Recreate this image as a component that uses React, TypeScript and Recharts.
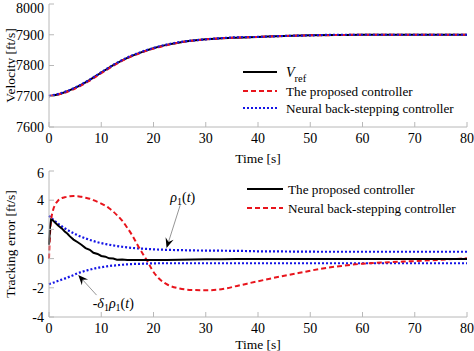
import React from 'react';
import { LineChart, Line, XAxis, YAxis, Legend, ReferenceLine, ReferenceDot } from 'recharts';

// ---------- data ----------
const topTime = [0, 2.5, 5, 7.5, 10, 12.5, 15, 17.5, 20, 22.5, 25, 30, 35, 40, 45, 50, 55, 60, 70, 80];
const vRef = [7700, 7710, 7727, 7750, 7777, 7803, 7825, 7842, 7856, 7867, 7875, 7885, 7890, 7893, 7896, 7898, 7899, 7900, 7900, 7900];
const vProposed = [7700, 7709, 7725, 7748, 7775, 7801, 7824, 7841, 7855, 7866, 7875, 7885, 7890, 7893, 7896, 7898, 7899, 7900, 7900, 7900];
const vNeural = [7701, 7711, 7728, 7751, 7778, 7804, 7826, 7843, 7857, 7868, 7876, 7885, 7891, 7893, 7896, 7898, 7900, 7900, 7900, 7900];

const botTime = [0, 0.2, 0.4, 0.8, 1.2, 1.8, 2.5, 3, 3.5, 4, 4.7, 5.5, 6.2, 7, 7.8, 8.5, 9.3, 10, 10.8, 11.5, 12.3, 13, 14, 15, 16, 17, 18, 18.8, 19.7, 21, 22.5, 25, 27.5, 30, 33, 36, 40, 44, 48, 52, 56, 60, 65, 70, 75, 80];
const eProposed = [0.95, 2.2, 2.67, 2.6, 2.45, 2.25, 2.05, 1.86, 1.72, 1.52, 1.3, 1.12, 0.95, 0.72, 0.6, 0.4, 0.32, 0.18, 0.13, 0.02, 0.0, -0.08, -0.06, -0.1, -0.1, -0.1, -0.1, -0.1, -0.1, -0.1, -0.09, -0.08, -0.06, -0.05, -0.04, -0.03, -0.02, -0.02, -0.02, -0.02, -0.02, -0.02, -0.02, -0.02, -0.02, -0.02];
const eNeural = [0, 1.75, 2.6, 3.35, 3.7, 4.0, 4.15, 4.2, 4.24, 4.27, 4.28, 4.27, 4.23, 4.17, 4.1, 4.0, 3.88, 3.77, 3.62, 3.45, 3.22, 2.98, 2.6, 2.1, 1.55, 0.9, 0.3, -0.15, -0.75, -1.35, -1.75, -2.05, -2.15, -2.17, -2.1, -1.87, -1.55, -1.25, -0.97, -0.7, -0.5, -0.35, -0.25, -0.17, -0.08, 0.02];
const rhoUpper = [2.94, 2.87, 2.8, 2.67, 2.55, 2.38, 2.2, 2.08, 1.97, 1.87, 1.74, 1.6, 1.49, 1.38, 1.28, 1.2, 1.12, 1.06, 1.0, 0.95, 0.9, 0.86, 0.81, 0.77, 0.73, 0.7, 0.68, 0.66, 0.64, 0.62, 0.6, 0.58, 0.56, 0.55, 0.54, 0.53, 0.5, 0.49, 0.48, 0.47, 0.47, 0.47, 0.47, 0.47, 0.47, 0.47];
const rhoLower = [-1.75, -1.72, -1.7, -1.65, -1.6, -1.52, -1.43, -1.37, -1.3, -1.23, -1.13, -1.0, -0.92, -0.83, -0.76, -0.69, -0.63, -0.59, -0.55, -0.51, -0.48, -0.46, -0.42, -0.39, -0.37, -0.36, -0.35, -0.34, -0.33, -0.32, -0.32, -0.32, -0.32, -0.32, -0.32, -0.32, -0.32, -0.32, -0.32, -0.32, -0.32, -0.32, -0.32, -0.32, -0.32, -0.32];

const timeTicks = [0, 10, 20, 30, 40, 50, 60, 70, 80];
const velTicks = [7600, 7700, 7800, 7900, 8000];
const errTicks = [-4, -2, 0, 2, 4, 6];

const topLegend = ['V_ref', 'The proposed controller', 'Neural back-stepping controller'];
const botLegend = ['The proposed controller', 'Neural back-stepping controller'];

// annotation anchors (data coords): text, arrow tail, arrow tip
const rhoText = { x: 25.6, y: 4.2 };
const rhoArrow = [{ x: 25.1, y: 3.65 }, { x: 22.5, y: 0.72 }];
const lowText = { x: 12.3, y: -3.05 };
const lowArrow = [{ x: 9.1, y: -2.5 }, { x: 5.6, y: -1.12 }];

const topData = topTime.map((t, i) => ({ t, ref: vRef[i], prop: vProposed[i], neur: vNeural[i] }));
const botData = botTime.map((t, i) => ({ t, prop: eProposed[i], neur: eNeural[i], up: rhoUpper[i], low: rhoLower[i] }));

// ---------- styles ----------
const FONT = "'Liberation Serif', 'Times New Roman', serif";
const FRAME = '#b8b8b8';
const tickStyle = { fontSize: 14, fontFamily: FONT, fill: '#000' };
const labelStyle = { fontSize: 13.5, fontFamily: FONT, fill: '#000' };

const Arrow = (props: any) => {
  const { x1, y1, x2, y2 } = props;
  const ang = Math.atan2(y2 - y1, x2 - x1);
  const L = 10, W = 4.2, back = 6.5;
  const ca = Math.cos(ang), sa = Math.sin(ang);
  const bx = x2 - L * ca, by = y2 - L * sa;
  const p1 = [bx - W * sa, by + W * ca];
  const p2 = [bx + W * sa, by - W * ca];
  const pb = [x2 - back * ca, y2 - back * sa];
  return (
    <g>
      <line x1={x1} y1={y1} x2={pb[0]} y2={pb[1]} stroke="#8a8a8a" strokeWidth={0.9} />
      <path d={`M${x2},${y2} L${p1[0]},${p1[1]} L${pb[0]},${pb[1]} L${p2[0]},${p2[1]} Z`} fill="#000" />
    </g>
  );
};

const RhoLabel = (props: any) => (
  <text x={props.cx} y={props.cy} textAnchor="middle" dominantBaseline="central" fontFamily={FONT} fontSize={14} fill="#000">
    <tspan fontStyle="italic">ρ</tspan>
    <tspan fontSize={10} dy={4}>1</tspan>
    <tspan dy={-4}>(</tspan>
    <tspan fontStyle="italic">t</tspan>
    <tspan>)</tspan>
  </text>
);

const LowLabel = (props: any) => (
  <text x={props.cx} y={props.cy} textAnchor="middle" dominantBaseline="central" fontFamily={FONT} fontSize={14} fill="#000">
    <tspan>-</tspan>
    <tspan fontStyle="italic">δ</tspan>
    <tspan fontSize={10} dy={4}>1</tspan>
    <tspan fontStyle="italic" dy={-4}>ρ</tspan>
    <tspan fontSize={10} dy={4}>1</tspan>
    <tspan dy={-4}>(</tspan>
    <tspan fontStyle="italic">t</tspan>
    <tspan>)</tspan>
  </text>
);

const styleFor = (idx: number, kind: 'top' | 'bot') => {
  const list = kind === 'top'
    ? [{ c: '#000', d: undefined }, { c: '#e8141c', d: '5 3' }, { c: '#1414e6', d: '2 2' }]
    : [{ c: '#000', d: undefined }, { c: '#e8141c', d: '5 3' }];
  return list[idx];
};

const TopLegendContent = () => (
  <svg width={236} height={62} style={{ display: 'block' }}>
    {topLegend.map((name, i) => {
      const y = [12, 31, 48][i];
      const s = styleFor(i, 'top');
      return (
        <g key={name}>
          <line x1={7} x2={41} y1={y} y2={y} stroke={s.c} strokeWidth={2} strokeDasharray={s.d} />
          {name === 'V_ref' ? (
            <text x={50} y={y} dominantBaseline="central" fontFamily={FONT} fontSize={14} fill="#000">
              <tspan fontStyle="italic">V</tspan>
              <tspan fontSize={10.5} dy={6}>ref</tspan>
            </text>
          ) : (
            <text x={50} y={y} dominantBaseline="central" fontFamily={FONT} fontSize={13.2} fill="#000">{name}</text>
          )}
        </g>
      );
    })}
  </svg>
);

const BotLegendContent = () => (
  <svg width={232} height={42} style={{ display: 'block' }}>
    {botLegend.map((name, i) => {
      const y = [10, 29][i];
      const s = styleFor(i, 'bot');
      return (
        <g key={name}>
          <line x1={7} x2={43} y1={y} y2={y} stroke={s.c} strokeWidth={2} strokeDasharray={s.d} />
          <text x={48} y={y} dominantBaseline="central" fontFamily={FONT} fontSize={13.2} fill="#000">{name}</text>
        </g>
      );
    })}
  </svg>
);

const frameAxes = (domainY: number[], ticksY: number[]) => [
  <XAxis key="xt" xAxisId="t" orientation="top" type="number" dataKey="t" domain={[0, 80]} ticks={timeTicks}
    height={0} tick={false} tickSize={-5} tickLine={{ stroke: FRAME }} axisLine={{ stroke: FRAME }} />,
  <YAxis key="yr" yAxisId="r" orientation="right" type="number" domain={domainY} ticks={ticksY}
    width={0} tick={false} tickSize={-5} tickLine={{ stroke: FRAME }} axisLine={{ stroke: FRAME }} />,
];

export default function App() {
  return (
    <div style={{ position: 'absolute', left: 0, top: 0, width: 474, height: 351, background: '#fff' }}>
      <div style={{ position: 'absolute', left: 0, top: 0 }}>
        <LineChart width={474} height={165} data={topData} margin={{ top: 4, right: 7, bottom: 0, left: 0 }}>
          <XAxis type="number" dataKey="t" domain={[0, 80]} ticks={timeTicks} height={38}
            tickSize={-5} tickMargin={11} tick={tickStyle} tickLine={{ stroke: FRAME }} axisLine={{ stroke: FRAME }}
            label={{ value: 'Time [s]', position: 'insideBottom', offset: 2, style: labelStyle }} />
          <YAxis type="number" domain={[7600, 8000]} ticks={velTicks} width={49}
            tickSize={-5} tickMargin={10} tick={tickStyle} tickLine={{ stroke: FRAME }} axisLine={{ stroke: FRAME }}
            label={{ value: 'Velocity [ft/s]', angle: -90, position: 'insideLeft', offset: 10, style: { ...labelStyle, textAnchor: 'middle' } }} />
          {frameAxes([7600, 8000], velTicks)}
          <Line dataKey="ref" type="monotone" stroke="#000" strokeWidth={2} dot={false} isAnimationActive={false} />
          <Line dataKey="prop" type="monotone" stroke="#e8141c" strokeWidth={2} strokeDasharray="5 3" dot={false} isAnimationActive={false} />
          <Line dataKey="neur" type="monotone" stroke="#1414e6" strokeWidth={2.2} strokeDasharray="2 2" dot={false} isAnimationActive={false} />
          <Legend layout="vertical" align="center" verticalAlign="middle" content={<TopLegendContent />}
            wrapperStyle={{ left: 236, top: 60, width: 236, height: 62 }} />
        </LineChart>
      </div>
      <div style={{ position: 'absolute', left: 0, top: 165 }}>
        <LineChart width={474} height={186} data={botData} margin={{ top: 6, right: 7, bottom: 0, left: 0 }}>
          <XAxis type="number" dataKey="t" domain={[0, 80]} ticks={timeTicks} height={34}
            tickSize={-5} tickMargin={11} tick={tickStyle} tickLine={{ stroke: FRAME }} axisLine={{ stroke: FRAME }}
            label={{ value: 'Time [s]', position: 'insideBottom', offset: 2, style: labelStyle }} />
          <YAxis type="number" domain={[-4, 6]} ticks={errTicks} width={49}
            tickSize={-5} tickMargin={10} tick={tickStyle} tickLine={{ stroke: FRAME }} axisLine={{ stroke: FRAME }}
            label={{ value: 'Tracking error [ft/s]', angle: -90, position: 'insideLeft', offset: 10, style: { ...labelStyle, textAnchor: 'middle' } }} />
          {frameAxes([-4, 6], errTicks)}
          <Line dataKey="up" type="monotone" stroke="#1414e6" strokeWidth={2.2} strokeDasharray="2 2" dot={false} isAnimationActive={false} />
          <Line dataKey="low" type="monotone" stroke="#1414e6" strokeWidth={2.2} strokeDasharray="2 2" dot={false} isAnimationActive={false} />
          <Line dataKey="neur" type="monotone" stroke="#e8141c" strokeWidth={2} strokeDasharray="5 3" dot={false} isAnimationActive={false} />
          <Line dataKey="prop" type="linear" stroke="#000" strokeWidth={2} dot={false} isAnimationActive={false} />
          <ReferenceLine segment={rhoArrow} shape={<Arrow />} ifOverflow="visible" />
          <ReferenceLine segment={lowArrow} shape={<Arrow />} ifOverflow="visible" />
          <ReferenceDot x={rhoText.x} y={rhoText.y} r={0} shape={<RhoLabel />} ifOverflow="visible" />
          <ReferenceDot x={lowText.x} y={lowText.y} r={0} shape={<LowLabel />} ifOverflow="visible" />
          <Legend layout="vertical" align="center" verticalAlign="middle" content={<BotLegendContent />}
            wrapperStyle={{ left: 240, top: 14, width: 232, height: 42 }} />
        </LineChart>
      </div>
    </div>
  );
}
